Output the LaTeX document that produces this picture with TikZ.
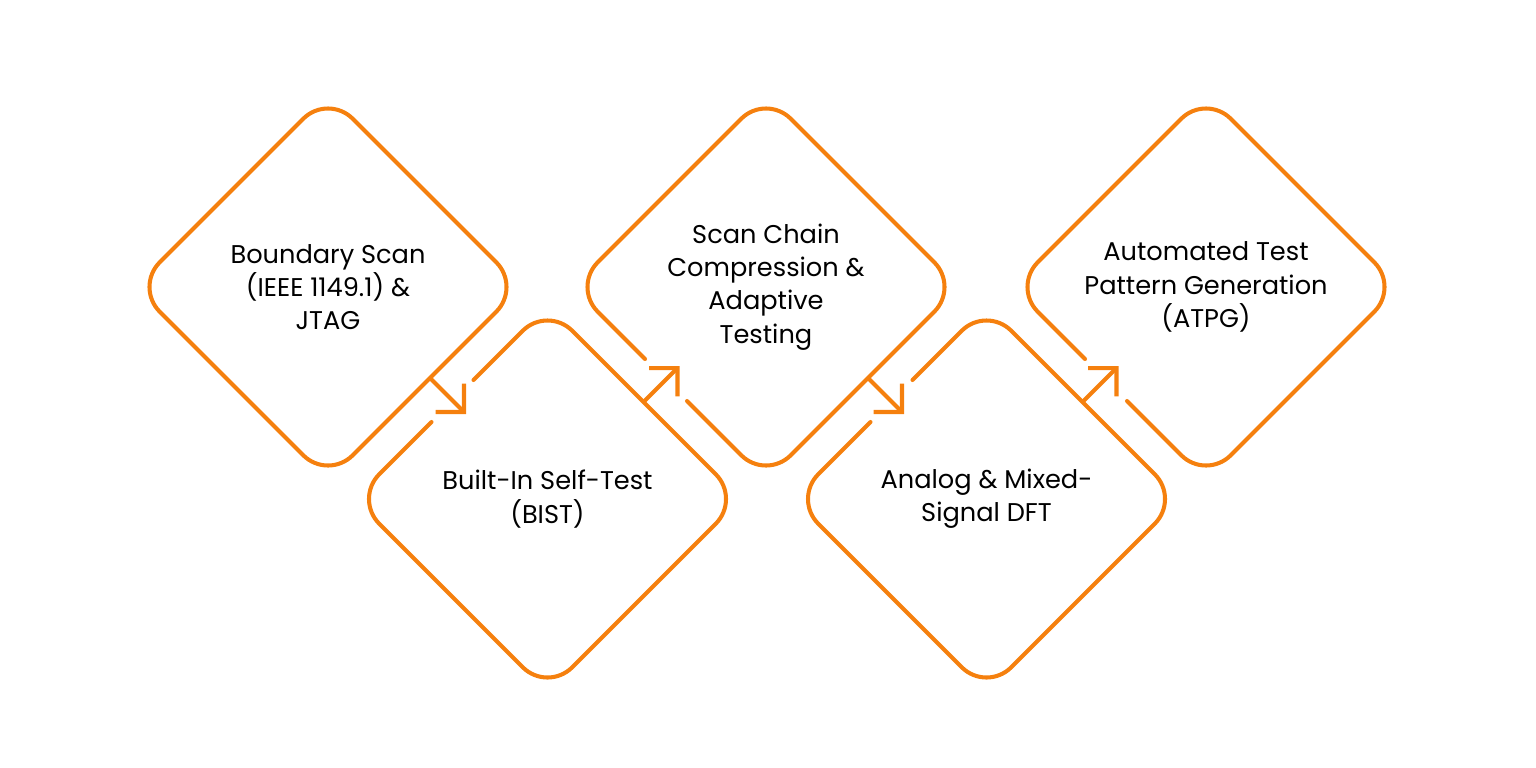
\documentclass[tikz,border=0pt]{standalone}
\usepackage{fontspec}
\setmainfont{Poppins}
\usetikzlibrary{arrows.meta,calc}
\definecolor{dftorange}{RGB}{245,128,14}
\tikzset{
	box/.style={draw=dftorange,line width=2.3pt,rounded corners=0.70cm,line cap=round},
	flow/.style={draw=dftorange,line width=2.3pt,-{Straight Barb[sharp,length=0.4cm,width=0.8cm]}},
	lbl/.style={align=center,font=\fontsize{14.6}{19}\selectfont,text=black}
}

\begin{document}
\begin{tikzpicture}[x=0.02cm,y=-0.02cm]
	\useasboundingbox (0,0) rectangle (1536,768);

	\node [lbl] (bscan) at (328,287) {Boundary Scan\\(IEEE 1149.1) \&\\JTAG};
	\node [lbl] (bist) at (547.5,499) {Built-In Self-Test\\(BIST)};
	\node [lbl] (chain) at (766,287) {Scan Chain\\Compression \&\\Adaptive\\Testing};
	\node [lbl] (analog) at (986.5,499) {Analog \& Mixed-\\Signal DFT};
	\node [lbl] (atpg) at (1206,287) {Automated Test\\Pattern Generation\\(ATPG)};

	% rounded diamonds, open where an arrow enters
	\draw [box,shift={(bscan.center)}] (0,-193) -- (193,0) -- (0,193) -- (-193,0) -- cycle;
	\draw [box,shift={(bist.center)}] (-74,-119) -- (0,-193) -- (193,0) -- (0,193) -- (-193,0) -- (-116,-77);
	\draw [box,shift={(chain.center)}] (-79,114) -- (0,193) -- (193,0) -- (0,-193) -- (-193,0) -- (-121,72);
	\draw [box,shift={(analog.center)}] (-74,-119) -- (0,-193) -- (193,0) -- (0,193) -- (-193,0) -- (-116,-77);
	\draw [box,shift={(atpg.center)}] (-79,114) -- (0,193) -- (193,0) -- (0,-193) -- (-193,0) -- (-121,72);

	\coordinate (a1s) at ($(bscan)+(102,91)$);
	\coordinate (a1e) at ($(bscan)+(138,127)$);
	\coordinate (a2s) at ($(bist)+(96,-97)$);
	\coordinate (a2e) at ($(bist)+(132,-133)$);
	\coordinate (a3s) at ($(chain)+(102,91)$);
	\coordinate (a3e) at ($(chain)+(138,127)$);
	\coordinate (a4s) at ($(analog)+(96,-97)$);
	\coordinate (a4e) at ($(analog)+(132,-133)$);

	\draw [flow] (a1s) -- (a1e);
	\draw [flow] (a2s) -- (a2e);
	\draw [flow] (a3s) -- (a3e);
	\draw [flow] (a4s) -- (a4e);
\end{tikzpicture}
\end{document}
